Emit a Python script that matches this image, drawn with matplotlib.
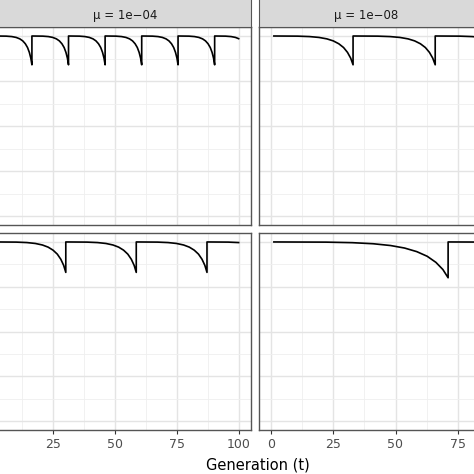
import matplotlib.pyplot as plt
import numpy as np

# jump times (end of each decay cycle) per panel, minimum value reached, start time of line
tl_jumps = [1.6, 16.4, 31.2, 46.0, 60.8, 75.5, 90.3, 105.1]
tl_depth = 0.84
tr_jumps = [1.0, 32.9, 66.0, 99.1]
tr_depth = 0.84
bl_jumps = [1.5, 30.1, 58.6, 87.2, 115.8]
bl_depth = 0.83
br_jumps = [1.0, 71.2, 141.4]
br_depth = 0.80

# shape of one decay cycle: fraction of cycle elapsed vs fraction of drop
prof_pos = [0.0, 0.3, 0.45, 0.57, 0.67, 0.75, 0.82, 0.88, 0.93, 0.97, 1.0]
prof_drop = [0.0, 0.005, 0.02, 0.05, 0.1, 0.17, 0.27, 0.4, 0.57, 0.77, 1.0]

t_start = [0, 1, 0, 1]
t_end = 100
xticks = [0, 25, 50, 75, 100]


def build_line(jumps, depth, t0):
    ts, ys = [], []
    for a, b in zip(jumps[:-1], jumps[1:]):
        for p, d in zip(prof_pos, prof_drop):
            ts.append(a + p * (b - a))
            ys.append(1 - d * (1 - depth))
    ts, ys = np.array(ts), np.array(ys)
    keep = (ts >= t0) & (ts <= t_end)
    ts_k, ys_k = list(ts[keep]), list(ys[keep])
    ts_k.append(t_end)
    ys_k.append(np.interp(t_end, ts, ys))
    return ts_k, ys_k


W = 474
fig = plt.figure(figsize=(4.74, 4.74), dpi=100)

def pos(x0, y0, x1, y1):
    return [x0 / W, 1 - y1 / W, (x1 - x0) / W, (y1 - y0) / W]

panels = [
    (pos(-21, 27, 251, 225), tl_jumps, tl_depth, t_start[0], "μ = 1e−04"),
    (pos(259, 27, 532, 225), tr_jumps, tr_depth, t_start[1], "μ = 1e−08"),
    (pos(-21, 233, 251, 430), bl_jumps, bl_depth, t_start[2], None),
    (pos(259, 233, 532, 430), br_jumps, br_depth, t_start[3], None),
]

for i, (rect, jumps, depth, t0, title) in enumerate(panels):
    ax = fig.add_axes(rect)
    ts, ys = build_line(jumps, depth, t0)
    ax.plot(ts, ys, color='black', lw=1.2, zorder=3)
    ax.set_xlim(-5, 105)
    ax.set_ylim(-0.05, 1.05)
    ax.set_xticks(xticks)
    ax.set_xticks([12.5, 37.5, 62.5, 87.5], minor=True)
    ax.set_yticks([0, 0.25, 0.5, 0.75, 1.0])
    ax.set_yticks([0.125, 0.375, 0.625, 0.875], minor=True)
    ax.grid(which='major', color='#e4e4e4', lw=1.0)
    ax.grid(which='minor', color='#efefef', lw=0.6)
    ax.set_axisbelow(True)
    for s in ax.spines.values():
        s.set_color('#555555')
        s.set_linewidth(1.0)
    ax.tick_params(which='both', length=0, labelleft=False, colors='#4d4d4d')
    ax.tick_params(axis='x', which='major', length=3, color='#333333', labelsize=9, pad=3)
    if i < 2:
        ax.tick_params(axis='x', labelbottom=False, length=0)
    if title:
        strip = fig.add_axes([rect[0], rect[1] + rect[3], rect[2], 29 / W])
        strip.set_facecolor('#d9d9d9')
        strip.set_xticks([])
        strip.set_yticks([])
        for s in strip.spines.values():
            s.set_color('#555555')
        vis_l = max(rect[0], 0)
        vis_r = min(rect[0] + rect[2], 1)
        fig.text((vis_l + vis_r) / 2, 1 - 15 / W, title, ha='center', va='center',
                 fontsize=8.5, color='#1a1a1a')

fig.text(258 / W, 1 - 465 / W, "Generation (t)", ha='center', va='center', fontsize=10.5)
fig.savefig('out.png', dpi=100)
